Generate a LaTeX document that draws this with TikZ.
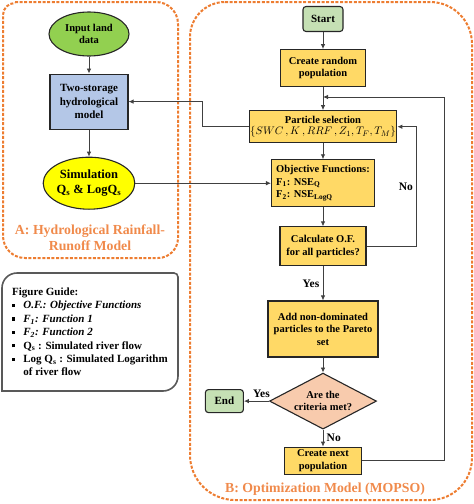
\documentclass[tikz,border=0pt]{standalone}
\usepackage{fontspec}
\setmainfont{Liberation Serif}
\usetikzlibrary{arrows.meta, positioning, shapes.geometric}

\definecolor{panelorange}{HTML}{ED7D31}
\definecolor{labelorange}{HTML}{F08A4B}
\definecolor{boxyellow}{HTML}{FFD966}
\definecolor{termgreen}{HTML}{C5E0B4}
\definecolor{landgreen}{HTML}{92D050}
\definecolor{modelblue}{HTML}{B4C7E7}
\definecolor{simyellow}{HTML}{FFFF00}
\definecolor{critorange}{HTML}{F8CBAD}
\definecolor{linegray}{HTML}{404040}

\newcommand{\gbul}{\raisebox{1.8pt}{\rule{3.2pt}{3.2pt}}}

\begin{document}
\begin{tikzpicture}[x=1pt, y=-1pt,
    panel/.style={draw=panelorange, line width=2pt, dash pattern=on 3pt off 1.6pt},
    paneltitle/.style={text=labelorange, font=\bfseries\fontsize{13.8}{16}\selectfont, align=center},
    box/.style={draw=black!85, line width=1.1pt, fill=boxyellow, align=center, inner sep=1pt, font=\bfseries\fontsize{10.5}{12.5}\selectfont},
    term/.style={box, fill=termgreen, rounded corners=3pt, font=\bfseries\fontsize{11}{13}\selectfont},
    blob/.style={ellipse, draw=black!85, line width=1.1pt, align=center, inner sep=0pt},
    crit/.style={diamond, aspect=2, draw=black!85, line width=1.1pt, fill=critorange, inner sep=0pt, align=center, font=\bfseries\fontsize{10.5}{12.5}\selectfont},
    lbl/.style={font=\bfseries\fontsize{11.5}{13}\selectfont},
    arr/.style={-{Latex[length=5pt,width=4.5pt]}, draw=linegray, line width=0.8pt}
  ]
    \useasboundingbox (0,0) rectangle (474,504);

    % panels
    \draw[panel] (15,2) -- (156,2) arc[start angle=270, end angle=360, radius=22]
      -- (178,238) arc[start angle=0, end angle=90, radius=20]
      -- (25,258) arc[start angle=90, end angle=180, radius=22]
      -- (3,15) arc[start angle=180, end angle=270, radius=12];
    \draw[panel] (225,2) -- (430,2) arc[start angle=270, end angle=360, radius=42]
      -- (472,458) arc[start angle=0, end angle=90, radius=42]
      -- (235,500) arc[start angle=90, end angle=180, radius=45]
      -- (190,37) arc[start angle=180, end angle=270, radius=35];

    % A: hydrological model
    \node[blob, fill=landgreen, minimum width=80pt, minimum height=44pt, font=\bfseries\fontsize{10.5}{12.5}\selectfont] (input) at (89,34) {Input land\\data};
    \node[box, fill=modelblue, minimum width=78pt, minimum height=55pt, font=\bfseries\fontsize{11}{13.3}\selectfont, below=17pt of input] (model) {Two-storage\\hydrological\\model};
    \node[blob, fill=simyellow, minimum width=86pt, minimum height=52pt, font=\bfseries\fontsize{12.5}{15}\selectfont, below=27pt of model] (sim) {Simulation\\Q\textsubscript{s} \& LogQ\textsubscript{s}};
    \node[paneltitle] (titleA) at (90,238) {A: Hydrological Rainfall-\\Runoff Model};

    % B: MOPSO
    \node[term, minimum width=40pt, minimum height=25pt] (start) at (323,19) {Start};
    \node[box, minimum width=85pt, minimum height=37pt, below=17pt of start] (crand) {Create random\\population};
    \node[box, minimum width=138pt, minimum height=32pt, below=23pt of crand] (psel) {Particle selection\\[-1pt]{\mdseries\fontsize{11}{12}\selectfont$\bigl\{SWC\,,K\,,RRF\,,Z_1,T_F,T_M\bigr\}$}};
    \node[box, minimum width=103pt, minimum height=47pt, align=left, below=16pt of psel] (objf) {Objective Functions:\\F\textsubscript{1}: NSE\textsubscript{Q}\\F\textsubscript{2}: NSE\textsubscript{LogQ}};
    \node[box, minimum width=86pt, minimum height=39pt, below=19pt of objf] (calc) {Calculate O.F.\\for all particles?};
    \node[box, minimum width=110pt, minimum height=56pt, below=34pt of calc] (add) {Add non-dominated\\particles to the Pareto\\set};
    \node[crit, minimum width=107pt, minimum height=56pt, below=15pt of add] (check) {Are the\\criteria met?};
    \node[term, minimum width=38pt, minimum height=23pt, left=25pt of check] (finish) {End};
    \node[box, minimum width=77pt, minimum height=27pt, below=17pt of check] (next) {Create next\\population};
    \node[paneltitle] (titleB) at (325,489) {B: Optimization Model (MOPSO)};

    % figure guide
    \draw[draw=black!65, line width=1.6pt, fill=white] (2,391) -- (2,288)
      arc[start angle=180, end angle=270, radius=15] -- (174,273)
      arc[start angle=270, end angle=360, radius=4] -- (178,376)
      arc[start angle=0, end angle=90, radius=15] -- cycle;
    \node[anchor=north west, inner sep=0pt, font=\bfseries\fontsize{11}{13.4}\selectfont] (guide) at (12,286) {%
      \begin{tabular}{@{}l@{\hspace{8pt}}l@{}}
        \multicolumn{2}{@{}l}{Figure Guide:}\\
        \gbul & \textit{O.F.: Objective Functions}\\
        \gbul & \textit{F\textsubscript{1}: Function 1}\\
        \gbul & \textit{F\textsubscript{2}: Function 2}\\
        \gbul & Q\textsubscript{s} : Simulated river flow\\
        \gbul & Log Q\textsubscript{s} : Simulated Logarithm\\
              & of river flow
      \end{tabular}};

    % connectors
    \draw[arr] (input) -- (model);
    \draw[arr] (model) -- (sim);
    \draw[arr] (sim.east) -- (sim.east -| objf.west);
    \draw[arr] (psel.west) -- ++(-46,0) |- (model.east);
    \draw[arr] (start) -- (crand);
    \draw[arr] (crand) -- (psel);
    \draw[arr] (psel) -- (objf);
    \draw[arr] (objf) -- (calc);
    \draw[arr] (calc) -- node[lbl, left] {Yes} (add);
    \draw[arr] (calc.east) -- ++(50,0) |- node[lbl, left, pos=0.25] {No} (psel.east);
    \draw[arr] (add) -- (check);
    \draw[arr] (check) -- node[lbl, above, pos=0.3] {Yes} (finish);
    \draw[arr] (check) -- node[lbl, right] {No} (next);
    \coordinate (loop) at (444,97);
    \draw[arr] (next.east) -| (loop) -- (loop -| crand.south);
  \end{tikzpicture}
\end{document}
